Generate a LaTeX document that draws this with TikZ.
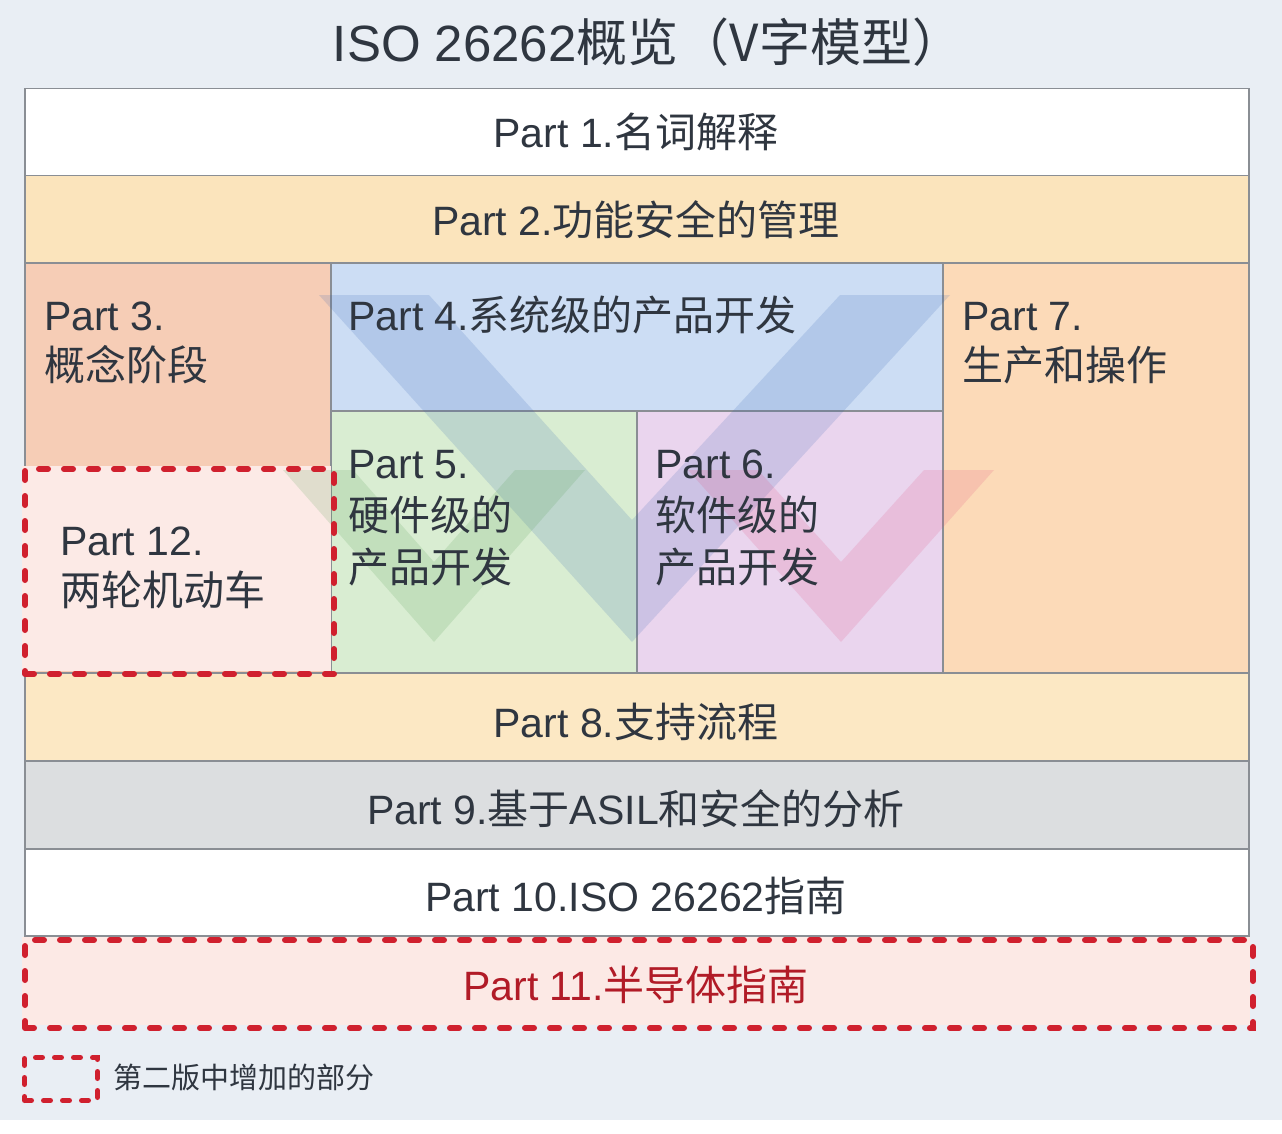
\documentclass[tikz,border=0pt]{standalone}
\usepackage{fontspec}
\setmainfont{Liberation Sans}
\newfontfamily\cjk{Noto Sans CJK SC}
\definecolor{bgc}{HTML}{E9EEF4}
\definecolor{lineg}{HTML}{8A8E94}
\definecolor{txt}{HTML}{2F3640}
\definecolor{redd}{HTML}{D0202E}
\definecolor{cP2}{HTML}{FBE4BC}
\definecolor{cP3}{HTML}{F6CDB6}
\definecolor{cP4}{HTML}{CCDDF4}
\definecolor{cP5}{HTML}{D9EDD2}
\definecolor{cP6}{HTML}{EAD5EE}
\definecolor{cP7}{HTML}{FCDAB8}
\definecolor{cP8}{HTML}{FCE8C4}
\definecolor{cP9}{HTML}{DCDEE0}
\definecolor{cP11}{HTML}{FCE9E5}
\definecolor{cP12}{HTML}{FCEAE6}
\definecolor{vblue}{HTML}{3060B0}
\definecolor{vgreen}{HTML}{4E9A4E}
\definecolor{vpink}{HTML}{E04A7A}
\begin{document}
\begin{tikzpicture}[x=1pt,y=-1pt,
  box/.style={draw=lineg, line width=1.5pt, inner sep=0pt, anchor=north west},
  lbl/.style={text=txt, inner sep=0pt, font=\fontsize{41}{52}\selectfont},
  reddash/.style={draw=redd, line width=6pt, dash pattern=on 9pt off 16pt, line cap=round},
  vmark/.style={opacity=0.16}]
\useasboundingbox (0,0) rectangle (1282,1134);
\fill[bgc] (0,0) rectangle (1282,1134);
\fill[white] (0,1120) rectangle (1282,1134);
% title
\node[text=txt, inner sep=0pt, anchor=base, font=\fontsize{51}{58}\selectfont] (title) at (648,62) {ISO 26262{\cjk 概览（V字模型）}};
% boxes
\node[box, fill=white, minimum width=1224pt, minimum height=87pt] (p1) at (24,88) {};
\node[box, fill=cP2, minimum width=1224pt, minimum height=87pt] (p2) at (24,175) {};
\node[box, fill=cP3, minimum width=306pt, minimum height=410pt] (p3) at (24,262) {};
\node[box, fill=cP4, minimum width=612pt, minimum height=148pt] (p4) at (330,262) {};
\node[box, fill=cP5, minimum width=306pt, minimum height=262pt] (p5) at (330,410) {};
\node[box, fill=cP6, minimum width=306pt, minimum height=262pt] (p6) at (636,410) {};
\node[box, fill=cP7, minimum width=306pt, minimum height=410pt] (p7) at (942,262) {};
\node[box, fill=cP8, minimum width=1224pt, minimum height=88pt] (p8) at (24,672) {};
\node[box, fill=cP9, minimum width=1224pt, minimum height=88pt] (p9) at (24,760) {};
\node[box, fill=white, minimum width=1224pt, minimum height=87pt] (p10) at (24,848) {};
\fill[cP12] (22,466) rectangle (331,671);
\fill[cP11] (22,937) rectangle (1250,1025);
% V model watermarks
\fill[vblue, vmark] (319,295) -- (429,295) -- (632,520) -- (840,295) -- (950,295) -- (632,642) -- cycle;
\fill[vgreen, vmark] (283,470) -- (353,470) -- (434,562) -- (515,470) -- (585,470) -- (434,642) -- cycle;
\fill[vpink, vmark] (688,470) -- (758,470) -- (841,562) -- (924,470) -- (994,470) -- (841,642) -- cycle;
% red dashed boxes
\node[reddash, inner sep=0pt, anchor=north west, minimum width=309pt, minimum height=205pt] (p12) at (22,466) {};
\node[reddash, inner sep=0pt, anchor=north west, minimum width=1228pt, minimum height=88pt] (p11) at (22,937) {};
\node[draw=redd, line width=5pt, dash pattern=on 7pt off 12pt, line cap=round, inner sep=0pt, anchor=north west, minimum width=73pt, minimum height=43pt] (leg) at (22,1055) {};
% labels
\node[lbl, anchor=base] (t1) at (636,148) {Part 1.{\cjk 名词解释}};
\node[lbl, anchor=base] (t2) at (636,236) {Part 2.{\cjk 功能安全的管理}};
\node[lbl, anchor=base west] (t3a) at (44,330) {Part 3.};
\node[lbl, anchor=base west] (t3b) at (44,380) {\cjk 概念阶段};
\node[lbl, anchor=base west] (t4) at (348,330) {Part 4.{\cjk 系统级的产品开发}};
\node[lbl, anchor=base west] (t7a) at (962,330) {Part 7.};
\node[lbl, anchor=base west] (t7b) at (962,380) {\cjk 生产和操作};
\node[lbl, anchor=base west] (t5a) at (348,478) {Part 5.};
\node[lbl, anchor=base west] (t5b) at (348,530) {\cjk 硬件级的};
\node[lbl, anchor=base west] (t5c) at (348,582) {\cjk 产品开发};
\node[lbl, anchor=base west] (t6a) at (655,478) {Part 6.};
\node[lbl, anchor=base west] (t6b) at (655,530) {\cjk 软件级的};
\node[lbl, anchor=base west] (t6c) at (655,582) {\cjk 产品开发};
\node[lbl, anchor=base west] (t12a) at (60,555) {Part 12.};
\node[lbl, anchor=base west] (t12b) at (60,605) {\cjk 两轮机动车};
\node[lbl, anchor=base] (t8) at (636,737) {Part 8.{\cjk 支持流程}};
\node[lbl, anchor=base] (t9) at (636,824) {Part 9.{\cjk 基于}ASIL{\cjk 和安全的分析}};
\node[lbl, anchor=base] (t10) at (636,911) {Part 10.ISO 26262{\cjk 指南}};
\node[lbl, anchor=base, text=redd!85!black] (t11) at (636,1000) {Part 11.{\cjk 半导体指南}};
\node[text=txt, inner sep=0pt, anchor=base west, font=\fontsize{29}{34}\selectfont\cjk] (tleg) at (113,1088) {第二版中增加的部分};
\end{tikzpicture}
\end{document}
